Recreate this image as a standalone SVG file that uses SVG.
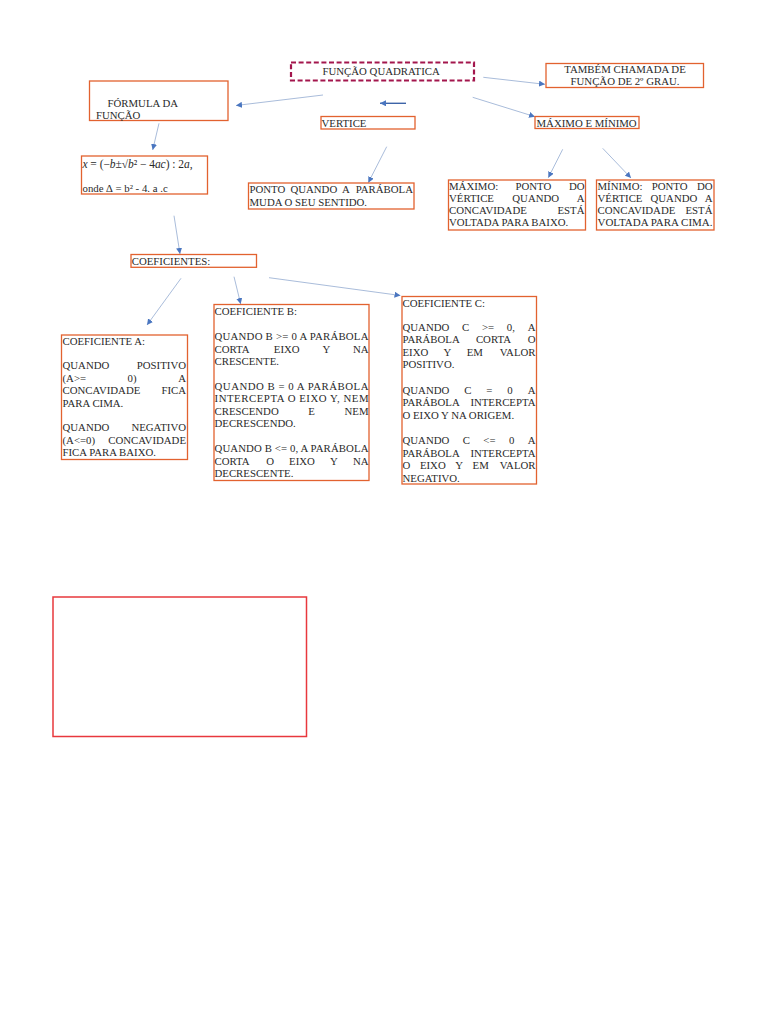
<svg xmlns="http://www.w3.org/2000/svg" width="768" height="1024" viewBox="0 0 768 1024">
<defs>
<style>
.t{font-family:"Liberation Serif","Times New Roman",serif;font-size:10.8px;fill:#2a2a2a}
.r{text-anchor:end}
.m{text-anchor:middle}
.box{fill:none;stroke:#e2622f;stroke-width:1.3}
.c{fill:none;stroke:#9fb4d6;stroke-width:0.9;marker-end:url(#ah)}
.cd{fill:none;stroke:#3d64a8;stroke-width:1.4;marker-end:url(#ah)}
</style>
<marker id="ah" viewBox="0 0 10 10" refX="10" refY="5" markerWidth="6" markerHeight="6" markerUnits="userSpaceOnUse" orient="auto">
<path d="M0,0 L10,5 L0,10 z" fill="#4a76c0"/>
</marker>
</defs>
<rect width="768" height="1024" fill="#ffffff"/>

<g id="connectors">
<line class="c" x1="483.3" y1="77.3" x2="545" y2="84.3"/>
<line class="c" x1="323" y1="95" x2="236" y2="105.5"/>
<line class="cd" x1="406" y1="103.3" x2="380" y2="103.3"/>
<line class="c" x1="472.7" y1="97.3" x2="535" y2="116.7"/>
<line class="c" x1="159" y1="123.3" x2="152.7" y2="150"/>
<line class="c" x1="386.7" y1="146.7" x2="368.3" y2="182.7"/>
<line class="c" x1="562.7" y1="149.3" x2="548.3" y2="177.7"/>
<line class="c" x1="602.7" y1="148.3" x2="631" y2="178"/>
<line class="c" x1="174" y1="215.7" x2="180" y2="254"/>
<line class="c" x1="181" y1="278.3" x2="147" y2="325"/>
<line class="c" x1="234" y1="276.7" x2="240.7" y2="304"/>
<line class="c" x1="269" y1="277.7" x2="400.5" y2="295.5"/>
</g>

<g id="funcao-quadratica">
<rect x="291" y="62.5" width="183" height="18" fill="none" stroke="#a3164d" stroke-width="2.2" stroke-dasharray="5 2.6"/>
<text class="t" x="322.5" y="74.5">FUNÇÃO QUADRATICA</text>
</g>

<g id="tambem">
<rect class="box" x="546" y="63.5" width="157.5" height="24"/>
<text class="t m" x="625" y="73">TAMBÉM CHAMADA DE</text>
<text class="t m" x="625" y="84.5">FUNÇÃO DE 2º GRAU.</text>
</g>

<g id="formula-label">
<rect class="box" x="89.5" y="81" width="138.5" height="39.5"/>
<text class="t" x="107.5" y="107">FÓRMULA DA</text>
<text class="t" x="96" y="118.5">FUNÇÃO</text>
</g>

<g id="vertice">
<rect class="box" x="321" y="116.5" width="94" height="12.5"/>
<text class="t" x="321.5" y="126.5">VERTICE</text>
</g>

<g id="maximo-minimo">
<rect class="box" x="535" y="116.5" width="104" height="12"/>
<text class="t" x="536.5" y="126.5">MÁXIMO E MÍNIMO</text>
</g>

<g id="formula">
<rect class="box" x="81.5" y="156" width="126" height="38"/>
<text class="t" x="82.5" y="167.5" style="font-size:11.5px" textLength="110" lengthAdjust="spacing"><tspan font-style="italic">x</tspan> = (−<tspan font-style="italic">b</tspan>±√<tspan font-style="italic">b</tspan>² − 4<tspan font-style="italic">ac</tspan>) : 2<tspan font-style="italic">a</tspan>,</text>
<text class="t" x="82.5" y="191.5">onde ∆ = b² - 4. a .c</text>
</g>

<g id="ponto">
<rect class="box" x="248.5" y="183" width="165.5" height="26"/>
<text class="t" x="249.5" y="193">PONTO</text>
<text class="t" x="290.4" y="193">QUANDO</text>
<text class="t" x="342.1" y="193">A</text>
<text class="t r" x="413" y="193">PARÁBOLA</text>
<text class="t" x="249.5" y="205.5">MUDA O SEU SENTIDO.</text>
</g>

<g id="maximo">
<rect class="box" x="448.5" y="180" width="137" height="50"/>
<text class="t" x="449" y="190">MÁXIMO:</text>
<text class="t" x="515.5" y="190">PONTO</text>
<text class="t r" x="584.5" y="190">DO</text>
<text class="t" x="449" y="202">VÉRTICE</text>
<text class="t" x="512.3" y="202">QUANDO</text>
<text class="t r" x="584.5" y="202">A</text>
<text class="t" x="449" y="214">CONCAVIDADE</text>
<text class="t r" x="584.5" y="214">ESTÁ</text>
<text class="t" x="449" y="226">VOLTADA PARA BAIXO.</text>
</g>

<g id="minimo">
<rect class="box" x="596.5" y="180" width="117.5" height="50"/>
<text class="t" x="597.5" y="190">MÍNIMO:</text>
<text class="t" x="651.7" y="190">PONTO</text>
<text class="t r" x="712.5" y="190">DO</text>
<text class="t" x="597.5" y="202">VÉRTICE</text>
<text class="t" x="650.5" y="202">QUANDO</text>
<text class="t r" x="712.5" y="202">A</text>
<text class="t" x="597.5" y="214">CONCAVIDADE</text>
<text class="t r" x="712.5" y="214">ESTÁ</text>
<text class="t" x="597.5" y="226" textLength="115" lengthAdjust="spacingAndGlyphs">VOLTADA PARA CIMA.</text>
</g>

<g id="coeficientes">
<rect class="box" x="131" y="254.5" width="125.5" height="12.8"/>
<text class="t" x="131.7" y="264.5">COEFICIENTES:</text>
</g>

<g id="coeficiente-a">
<rect class="box" x="61.5" y="335" width="126" height="124.5"/>
<text class="t" x="62.5" y="344.5">COEFICIENTE A:</text>
<text class="t" x="62.5" y="369">QUANDO</text>
<text class="t r" x="186" y="369">POSITIVO</text>
<text class="t" x="62.5" y="381.5">(A&gt;=</text>
<text class="t" x="127.6" y="381.5">0)</text>
<text class="t r" x="186" y="381.5">A</text>
<text class="t" x="62.5" y="394">CONCAVIDADE</text>
<text class="t r" x="186" y="394">FICA</text>
<text class="t" x="62.5" y="406.5">PARA CIMA.</text>
<text class="t" x="62.5" y="431">QUANDO</text>
<text class="t r" x="186" y="431">NEGATIVO</text>
<text class="t" x="62.5" y="443.5">(A&lt;=0)</text>
<text class="t r" x="186" y="443.5">CONCAVIDADE</text>
<text class="t" x="62.5" y="456">FICA PARA BAIXO.</text>
</g>

<g id="coeficiente-b">
<rect class="box" x="214" y="304.5" width="155" height="176"/>
<text class="t" x="214.5" y="314.5">COEFICIENTE B:</text>
<text class="t" x="214.5" y="340" textLength="154" lengthAdjust="spacing">QUANDO B &gt;= 0 A PARÁBOLA</text>
<text class="t" x="214.5" y="352.5">CORTA</text>
<text class="t" x="273.8" y="352.5">EIXO</text>
<text class="t" x="322.4" y="352.5">Y</text>
<text class="t r" x="368.5" y="352.5">NA</text>
<text class="t" x="214.5" y="365">CRESCENTE.</text>
<text class="t" x="214.5" y="389.5" textLength="154" lengthAdjust="spacing">QUANDO B = 0 A PARÁBOLA</text>
<text class="t" x="214.5" y="402" textLength="154" lengthAdjust="spacing">INTERCEPTA O EIXO Y, NEM</text>
<text class="t" x="214.5" y="414.5">CRESCENDO</text>
<text class="t" x="308.3" y="414.5">E</text>
<text class="t r" x="368.5" y="414.5">NEM</text>
<text class="t" x="214.5" y="427">DECRESCENDO.</text>
<text class="t" x="214.5" y="452" textLength="154" lengthAdjust="spacing">QUANDO B &lt;= 0, A PARÁBOLA</text>
<text class="t" x="214.5" y="464.5">CORTA</text>
<text class="t" x="266.2" y="464.5">O</text>
<text class="t" x="289.1" y="464.5">EIXO</text>
<text class="t" x="330" y="464.5">Y</text>
<text class="t r" x="368.5" y="464.5">NA</text>
<text class="t" x="214.5" y="477">DECRESCENTE.</text>
</g>

<g id="coeficiente-c">
<rect class="box" x="402" y="296.5" width="134.5" height="187.5"/>
<text class="t" x="402.5" y="306.5">COEFICIENTE C:</text>
<text class="t" x="402.5" y="330.5">QUANDO</text>
<text class="t" x="462" y="330.5">C</text>
<text class="t" x="481.9" y="330.5">&gt;=</text>
<text class="t" x="506.8" y="330.5">0,</text>
<text class="t r" x="535.5" y="330.5">A</text>
<text class="t" x="402.5" y="343">PARÁBOLA</text>
<text class="t" x="475.9" y="343">CORTA</text>
<text class="t r" x="535.5" y="343">O</text>
<text class="t" x="402.5" y="355.5">EIXO</text>
<text class="t" x="443.6" y="355.5">Y</text>
<text class="t" x="466.7" y="355.5">EM</text>
<text class="t r" x="535.5" y="355.5">VALOR</text>
<text class="t" x="402.5" y="368">POSITIVO.</text>
<text class="t" x="402.5" y="393.5">QUANDO</text>
<text class="t" x="464.2" y="393.5">C</text>
<text class="t" x="486.3" y="393.5">=</text>
<text class="t" x="507.3" y="393.5">0</text>
<text class="t r" x="535.5" y="393.5">A</text>
<text class="t" x="402.5" y="406">PARÁBOLA</text>
<text class="t r" x="535.5" y="406">INTERCEPTA</text>
<text class="t" x="402.5" y="418.5">O EIXO Y NA ORIGEM.</text>
<text class="t" x="402.5" y="444">QUANDO</text>
<text class="t" x="462.7" y="444">C</text>
<text class="t" x="483.3" y="444">&lt;=</text>
<text class="t" x="508.9" y="444">0</text>
<text class="t r" x="535.5" y="444">A</text>
<text class="t" x="402.5" y="456.5">PARÁBOLA</text>
<text class="t r" x="535.5" y="456.5">INTERCEPTA</text>
<text class="t" x="402.5" y="469">O</text>
<text class="t" x="419.9" y="469">EIXO</text>
<text class="t" x="455.2" y="469">Y</text>
<text class="t" x="472.6" y="469">EM</text>
<text class="t r" x="535.5" y="469">VALOR</text>
<text class="t" x="402.5" y="481.5">NEGATIVO.</text>
</g>

<g id="empty-box">
<rect x="53" y="597" width="253.5" height="139.5" fill="none" stroke="#e8383d" stroke-width="1.5"/>
</g>
</svg>
